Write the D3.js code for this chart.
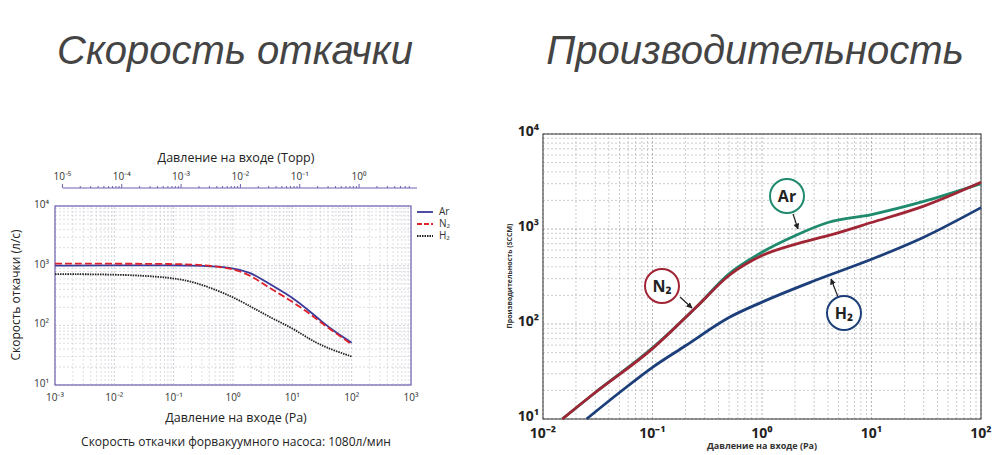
<!DOCTYPE html><html><head><meta charset="utf-8">
<script src="https://cdn.jsdelivr.net/npm/d3@7"></script>
<style>body{margin:0;background:#fff}svg{font-family:"Open Sans",Arial,sans-serif}</style></head><body>
<svg id="c" width="1000" height="455"></svg>
<script>
// Left chart: pumping speed (l/s) vs inlet pressure (Pa)
const leftPressure = [0.001,0.01,0.1,0.3,1,2,3,5,10,20,30,50,100];
const leftAr = [1000,1020,1010,1000,930,760,600,440,295,170,120,80,51];
const leftN2 = [1080,1080,1070,1040,900,680,520,380,250,155,112,78,48];
const leftH2Pressure = [0.001,0.01,0.1,0.3,1,2,3,5,10,20,30,50,100];
const leftH2 = [720,720,640,490,300,205,165,125,90,58,47,38,30];
// Right chart: throughput (SCCM) vs inlet pressure (Pa)
const rightPressure = [0.015,0.03,0.1,0.25,0.5,1,2,4,10,30,100];
const rightAr = [10,19,56,150,337,570,850,1170,1420,1950,3000];
const rightN2 = [10,19,55,150,324,525,690,850,1170,1740,3100];
const rightH2Pressure = [0.025,0.05,0.1,0.2,0.5,1,3,10,30,100];
const rightH2 = [10,19,35,59,117,170,285,480,820,1680];
const sup = {"-":"⁻","0":"⁰","1":"¹","2":"²","3":"³","4":"⁴","5":"⁵"};
const pow = e => "10" + String(e).split("").map(c=>sup[c]).join("");

const svg = d3.select("#c");
svg.append("text").attr("x",235).attr("y",64).attr("text-anchor","middle").attr("font-family","Liberation Sans, Arial").attr("font-size",40).attr("font-style","italic").attr("fill","#444").text("Скорость откачки");
svg.append("text").attr("x",755).attr("y",64).attr("text-anchor","middle").attr("font-family","Liberation Sans, Arial").attr("font-size",40).attr("font-style","italic").attr("fill","#444").text("Производительность");

function grid(g,x,y,col,dash){
  const xt=x.ticks(), yt=y.ticks();
  g.selectAll(".gx").data(xt).join("line").attr("x1",x).attr("x2",x).attr("y1",y.range()[0]).attr("y2",y.range()[1])
   .attr("stroke",col).attr("stroke-dasharray",dash).attr("stroke-width",d=>Math.abs(Math.log10(d)%1)<1e-6?0.9:0.6);
  g.selectAll(".gy").data(yt).join("line").attr("y1",y).attr("y2",y).attr("x1",x.range()[0]).attr("x2",x.range()[1])
   .attr("stroke",col).attr("stroke-dasharray",dash).attr("stroke-width",d=>Math.abs(Math.log10(d)%1)<1e-6?0.9:0.6);
}
// LEFT
{
const x=d3.scaleLog().domain([1e-3,1e3]).range([55,411]);
const y=d3.scaleLog().domain([10,1e4]).range([385,206]);
const g=svg.append("g");
grid(g.append("g"),x,y,"#c8c8d0","2,2");
g.append("rect").attr("x",55).attr("y",206).attr("width",356).attr("height",179).attr("fill","none").attr("stroke","#7060b0").attr("stroke-width",1.2);
const decX=d3.range(-3,4), decY=d3.range(1,5);
g.selectAll(".xl").data(decX).join("text").attr("x",e=>x(10**e)).attr("y",401).attr("text-anchor","middle").attr("font-size",10).attr("fill","#333").text(pow);
g.selectAll(".yl").data(decY).join("text").attr("x",49).attr("y",e=>y(10**e)+2).attr("text-anchor","end").attr("font-size",10).attr("fill","#333").text(pow);
// top Torr axis
const xt=d3.scaleLog().domain([1e-3/133.3,1e3/133.3]).range([55,411]);
g.append("line").attr("x1",63).attr("x2",417).attr("y1",188).attr("y2",188).attr("stroke","#7060b0").attr("stroke-width",1.2);
const tt=xt.ticks().filter(d=>xt(d)>=62&&xt(d)<=417);
g.selectAll(".tt").data(tt).join("line").attr("x1",xt).attr("x2",xt).attr("y1",188).attr("y2",d=>Math.abs(Math.log10(d)%1)<1e-6?184:186).attr("stroke","#7060b0");
g.selectAll(".tl").data(d3.range(-5,1)).join("text").attr("x",e=>xt(10**e)).attr("y",180).attr("text-anchor","middle").attr("font-size",10).attr("fill","#333").text(pow);
g.append("text").attr("x",236).attr("y",162).attr("text-anchor","middle").attr("font-size",12.5).attr("fill","#222").text("Давление на входе (Торр)");
g.append("text").attr("x",236).attr("y",422).attr("text-anchor","middle").attr("font-size",12.5).attr("fill","#222").text("Давление на входе (Pa)");
g.append("text").attr("x",236).attr("y",446).attr("text-anchor","middle").attr("font-size",12).attr("fill","#222").text("Скорость откачки форвакуумного насоса: 1080л/мин");
g.append("text").attr("transform","translate(20,295) rotate(-90)").attr("text-anchor","middle").attr("font-size",12).attr("fill","#222").text("Скорость откачки (л/с)");
const line=d3.line().x(d=>x(d[0])).y(d=>y(d[1])).curve(d3.curveBasis);
g.append("path").attr("d",line(leftH2Pressure.map((p,i)=>[p,leftH2[i]]))).attr("fill","none").attr("stroke","#222").attr("stroke-width",1.8).attr("stroke-dasharray","1.5,1");
g.append("path").attr("d",line(leftPressure.map((p,i)=>[p,leftAr[i]]))).attr("fill","none").attr("stroke","#3a3a9a").attr("stroke-width",1.8);
g.append("path").attr("d",line(leftPressure.map((p,i)=>[p,leftN2[i]]))).attr("fill","none").attr("stroke","#e0202a").attr("stroke-width",1.8).attr("stroke-dasharray","7,3");
const leg=[["Ar","#3a3a9a",null],["N₂","#e0202a","5,2"],["H₂","#222","1.5,1"]];
leg.forEach((l,i)=>{g.append("line").attr("x1",417).attr("x2",433).attr("y1",212+i*12).attr("y2",212+i*12).attr("stroke",l[1]).attr("stroke-width",1.8).attr("stroke-dasharray",l[2]);
 g.append("text").attr("x",439).attr("y",215+i*12).attr("font-size",10).attr("fill","#333").text(l[0]);});
}
// RIGHT
{
const x=d3.scaleLog().domain([1e-2,1e2]).range([543,981]);
const y=d3.scaleLog().domain([10,1e4]).range([419,134]);
const g=svg.append("g");
grid(g.append("g"),x,y,"#aaa","2,2");
g.append("rect").attr("x",543).attr("y",134).attr("width",438).attr("height",285).attr("fill","none").attr("stroke","#333").attr("stroke-width",1);
g.selectAll(".xl").data(d3.range(-2,3)).join("text").attr("x",e=>x(10**e)).attr("y",438).attr("text-anchor","middle").attr("font-size",14).attr("font-weight","bold").attr("fill","#222").text(pow);
g.selectAll(".yl").data(d3.range(1,5)).join("text").attr("x",539).attr("y",e=>y(10**e)+2).attr("text-anchor","end").attr("font-size",14).attr("font-weight","bold").attr("fill","#222").text(pow);
g.append("text").attr("x",762).attr("y",449).attr("text-anchor","middle").attr("font-size",9).attr("font-weight","bold").attr("fill","#333").text("Давление на входе (Pa)");
g.append("text").attr("transform","translate(512,276) rotate(-90)").attr("text-anchor","middle").attr("font-size",7).attr("font-weight","bold").attr("fill","#333").text("Производительность (SCCM)");
const line=d3.line().x(d=>x(d[0])).y(d=>y(d[1])).curve(d3.curveMonotoneX);
g.append("path").attr("d",line(rightPressure.map((p,i)=>[p,rightAr[i]]))).attr("fill","none").attr("stroke","#1f8a6e").attr("stroke-width",2.8);
g.append("path").attr("d",line(rightPressure.map((p,i)=>[p,rightN2[i]]))).attr("fill","none").attr("stroke","#a02535").attr("stroke-width",2.8);
g.append("path").attr("d",line(rightH2Pressure.map((p,i)=>[p,rightH2[i]]))).attr("fill","none").attr("stroke","#1c3f7a").attr("stroke-width",2.8);
svg.append("defs").append("marker").attr("id","ah").attr("viewBox","0 0 10 10").attr("refX",9).attr("refY",5).attr("markerWidth",5).attr("markerHeight",5).attr("orient","auto").append("path").attr("d","M0,0L10,5L0,10z").attr("fill","#222");
const calls=[["Ar",787,196,"#1f8a6e",[793,214,798,229]],["N₂",662,286,"#a02535",[680,297,692,308]],["H₂",844,313,"#1c3f7a",[838,297,831,279]]];
calls.forEach(c=>{const [x1,y1,x2,y2]=c[4];
 g.append("line").attr("x1",x1).attr("y1",y1).attr("x2",x2).attr("y2",y2).attr("stroke","#222").attr("stroke-width",1.2).attr("marker-end","url(#ah)");
 g.append("circle").attr("cx",c[1]).attr("cy",c[2]).attr("r",17).attr("fill","#fff").attr("stroke",c[3]).attr("stroke-width",2);
 g.append("text").attr("x",c[1]).attr("y",c[2]+6).attr("text-anchor","middle").attr("font-size",16).attr("font-weight","bold").attr("fill","#222").text(c[0]);});
}
</script></body></html>
